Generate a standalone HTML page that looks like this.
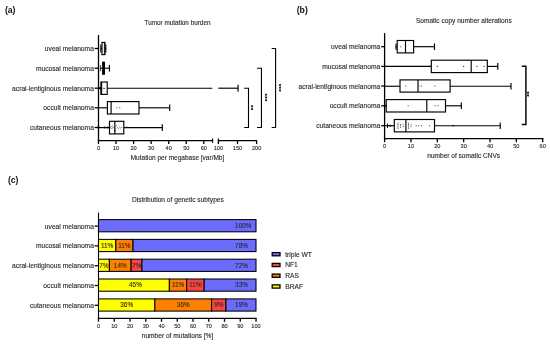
<!DOCTYPE html>
<html><head><meta charset="utf-8"><title>Figure</title>
<style>
html,body{margin:0;padding:0;background:#fff;}
svg{display:block;font-family:"Liberation Sans",Arial,sans-serif;}
</style></head>
<body>
<svg width="550" height="345" viewBox="0 0 550 345">
<rect x="0" y="0" width="550" height="345" fill="#ffffff"/>
<text x="4.90" y="12.50" font-size="8.7" text-anchor="start" font-weight="bold" fill="#111" >(a)</text>
<text x="296.70" y="12.50" font-size="8.7" text-anchor="start" font-weight="bold" fill="#111" >(b)</text>
<text x="7.90" y="182.50" font-size="8.7" text-anchor="start" font-weight="bold" fill="#111" >(c)</text>
<line x1="98.50" y1="35.00" x2="98.50" y2="141.30" stroke="#000" stroke-width="1.3"/>
<text x="93.90" y="51.00" font-size="6.7" text-anchor="end" font-weight="normal" fill="#2a2a2a"  stroke="#2a2a2a" stroke-width="0.12">uveal melanoma</text>
<line x1="94.60" y1="48.50" x2="98.50" y2="48.50" stroke="#000" stroke-width="1.3"/>
<text x="93.90" y="70.70" font-size="6.7" text-anchor="end" font-weight="normal" fill="#2a2a2a"  stroke="#2a2a2a" stroke-width="0.12">mucosal melanoma</text>
<line x1="94.60" y1="68.20" x2="98.50" y2="68.20" stroke="#000" stroke-width="1.3"/>
<text x="93.90" y="90.70" font-size="6.7" text-anchor="end" font-weight="normal" fill="#2a2a2a"  stroke="#2a2a2a" stroke-width="0.12">acral-lentiginous melanoma</text>
<line x1="94.60" y1="88.20" x2="98.50" y2="88.20" stroke="#000" stroke-width="1.3"/>
<text x="93.90" y="110.30" font-size="6.7" text-anchor="end" font-weight="normal" fill="#2a2a2a"  stroke="#2a2a2a" stroke-width="0.12">occult melanoma</text>
<line x1="94.60" y1="107.80" x2="98.50" y2="107.80" stroke="#000" stroke-width="1.3"/>
<text x="93.90" y="130.00" font-size="6.7" text-anchor="end" font-weight="normal" fill="#2a2a2a"  stroke="#2a2a2a" stroke-width="0.12">cutaneous melanoma</text>
<line x1="94.60" y1="127.50" x2="98.50" y2="127.50" stroke="#000" stroke-width="1.3"/>
<text x="177.50" y="24.90" font-size="6.38" text-anchor="middle" font-weight="normal" fill="#2a2a2a"  stroke="#2a2a2a" stroke-width="0.12">Tumor mutation burden</text>
<line x1="97.80" y1="140.60" x2="212.60" y2="140.60" stroke="#000" stroke-width="1.3"/>
<line x1="212.60" y1="138.60" x2="212.60" y2="142.70" stroke="#000" stroke-width="1.15"/>
<line x1="218.40" y1="140.60" x2="257.10" y2="140.60" stroke="#000" stroke-width="1.3"/>
<line x1="218.40" y1="138.60" x2="218.40" y2="142.70" stroke="#000" stroke-width="1.15"/>
<line x1="98.50" y1="140.60" x2="98.50" y2="144.10" stroke="#000" stroke-width="1.3"/>
<text x="98.50" y="150.20" font-size="5.6" text-anchor="middle" font-weight="normal" fill="#2a2a2a"  stroke="#2a2a2a" stroke-width="0.12">0</text>
<line x1="116.05" y1="140.60" x2="116.05" y2="144.10" stroke="#000" stroke-width="1.3"/>
<text x="116.05" y="150.20" font-size="5.6" text-anchor="middle" font-weight="normal" fill="#2a2a2a"  stroke="#2a2a2a" stroke-width="0.12">10</text>
<line x1="133.60" y1="140.60" x2="133.60" y2="144.10" stroke="#000" stroke-width="1.3"/>
<text x="133.60" y="150.20" font-size="5.6" text-anchor="middle" font-weight="normal" fill="#2a2a2a"  stroke="#2a2a2a" stroke-width="0.12">20</text>
<line x1="151.15" y1="140.60" x2="151.15" y2="144.10" stroke="#000" stroke-width="1.3"/>
<text x="151.15" y="150.20" font-size="5.6" text-anchor="middle" font-weight="normal" fill="#2a2a2a"  stroke="#2a2a2a" stroke-width="0.12">30</text>
<line x1="168.70" y1="140.60" x2="168.70" y2="144.10" stroke="#000" stroke-width="1.3"/>
<text x="168.70" y="150.20" font-size="5.6" text-anchor="middle" font-weight="normal" fill="#2a2a2a"  stroke="#2a2a2a" stroke-width="0.12">40</text>
<line x1="186.25" y1="140.60" x2="186.25" y2="144.10" stroke="#000" stroke-width="1.3"/>
<text x="186.25" y="150.20" font-size="5.6" text-anchor="middle" font-weight="normal" fill="#2a2a2a"  stroke="#2a2a2a" stroke-width="0.12">50</text>
<line x1="203.80" y1="140.60" x2="203.80" y2="144.10" stroke="#000" stroke-width="1.3"/>
<text x="203.80" y="150.20" font-size="5.6" text-anchor="middle" font-weight="normal" fill="#2a2a2a"  stroke="#2a2a2a" stroke-width="0.12">60</text>
<line x1="218.40" y1="140.60" x2="218.40" y2="144.10" stroke="#000" stroke-width="1.3"/>
<text x="218.40" y="150.20" font-size="5.6" text-anchor="middle" font-weight="normal" fill="#2a2a2a"  stroke="#2a2a2a" stroke-width="0.12">100</text>
<line x1="237.50" y1="140.60" x2="237.50" y2="144.10" stroke="#000" stroke-width="1.3"/>
<text x="237.50" y="150.20" font-size="5.6" text-anchor="middle" font-weight="normal" fill="#2a2a2a"  stroke="#2a2a2a" stroke-width="0.12">150</text>
<line x1="256.60" y1="140.60" x2="256.60" y2="144.10" stroke="#000" stroke-width="1.3"/>
<text x="256.60" y="150.20" font-size="5.6" text-anchor="middle" font-weight="normal" fill="#2a2a2a"  stroke="#2a2a2a" stroke-width="0.12">200</text>
<text x="177.50" y="159.70" font-size="6.5" text-anchor="middle" font-weight="normal" fill="#2a2a2a"  stroke="#2a2a2a" stroke-width="0.12">Mutation per megabase [var/Mb]</text>
<line x1="100.80" y1="44.50" x2="100.80" y2="52.50" stroke="#000" stroke-width="1.1"/>
<line x1="105.90" y1="44.50" x2="105.90" y2="52.50" stroke="#000" stroke-width="1.0"/>
<line x1="100.80" y1="48.50" x2="105.90" y2="48.50" stroke="#000" stroke-width="1.15"/>
<rect x="102.00" y="42.40" width="3.00" height="12.20" fill="#fff" stroke="#000" stroke-width="1.15"/>
<line x1="104.40" y1="42.40" x2="104.40" y2="54.60" stroke="#000" stroke-width="0.8"/>
<line x1="100.40" y1="65.10" x2="100.40" y2="71.30" stroke="#222" stroke-width="0.9"/>
<line x1="100.40" y1="68.20" x2="102.70" y2="68.20" stroke="#000" stroke-width="1.15"/>
<line x1="104.40" y1="68.20" x2="109.40" y2="68.20" stroke="#000" stroke-width="1.15"/>
<line x1="109.40" y1="64.90" x2="109.40" y2="71.50" stroke="#000" stroke-width="1.15"/>
<rect x="102.70" y="62.20" width="1.70" height="12.00" fill="#000" stroke="#000" stroke-width="1.15"/>
<line x1="103.50" y1="62.20" x2="103.50" y2="74.20" stroke="#000" stroke-width="1.15"/>
<line x1="98.50" y1="88.20" x2="101.00" y2="88.20" stroke="#000" stroke-width="1.15"/>
<line x1="107.00" y1="88.20" x2="212.30" y2="88.20" stroke="#000" stroke-width="1.15"/>
<line x1="218.30" y1="88.20" x2="238.10" y2="88.20" stroke="#000" stroke-width="1.15"/>
<line x1="238.10" y1="84.70" x2="238.10" y2="91.70" stroke="#000" stroke-width="1.15"/>
<rect x="100.90" y="82.00" width="6.30" height="12.40" fill="#fff" stroke="#000" stroke-width="1.15"/>
<line x1="101.60" y1="82.00" x2="101.60" y2="94.40" stroke="#000" stroke-width="1.15"/>
<circle cx="100.20" cy="88.20" r="1.2" fill="#000"/>
<circle cx="103.20" cy="88.20" r="0.55" fill="#111"/>
<circle cx="104.60" cy="88.20" r="0.55" fill="#111"/>
<line x1="98.50" y1="107.80" x2="107.40" y2="107.80" stroke="#000" stroke-width="1.15"/>
<line x1="139.00" y1="107.80" x2="169.70" y2="107.80" stroke="#000" stroke-width="1.15"/>
<line x1="169.70" y1="104.50" x2="169.70" y2="111.10" stroke="#000" stroke-width="1.15"/>
<rect x="107.40" y="101.60" width="31.60" height="12.40" fill="#fff" stroke="#000" stroke-width="1.15"/>
<line x1="111.10" y1="101.60" x2="111.10" y2="114.00" stroke="#000" stroke-width="1.15"/>
<circle cx="116.90" cy="107.80" r="0.55" fill="#111"/>
<circle cx="119.80" cy="107.80" r="0.55" fill="#111"/>
<line x1="98.50" y1="127.60" x2="109.50" y2="127.60" stroke="#000" stroke-width="1.15"/>
<line x1="123.80" y1="127.60" x2="162.30" y2="127.60" stroke="#000" stroke-width="1.15"/>
<line x1="162.30" y1="124.30" x2="162.30" y2="130.90" stroke="#000" stroke-width="1.15"/>
<rect x="109.50" y="121.30" width="14.30" height="12.60" fill="#fff" stroke="#000" stroke-width="1.15"/>
<line x1="114.80" y1="121.30" x2="114.80" y2="133.90" stroke="#000" stroke-width="1.15"/>
<circle cx="98.50" cy="127.50" r="1.25" fill="#000"/>
<circle cx="104.60" cy="127.50" r="0.95" fill="#000"/>
<circle cx="107.70" cy="127.50" r="1.05" fill="#000"/>
<circle cx="115.10" cy="130.70" r="0.65" fill="#000"/>
<circle cx="110.60" cy="127.50" r="0.42" fill="#222"/>
<circle cx="111.20" cy="126.50" r="0.42" fill="#222"/>
<circle cx="111.20" cy="128.50" r="0.42" fill="#222"/>
<circle cx="112.30" cy="126.00" r="0.42" fill="#222"/>
<circle cx="112.30" cy="128.00" r="0.42" fill="#222"/>
<circle cx="113.20" cy="127.50" r="0.42" fill="#222"/>
<circle cx="115.80" cy="126.50" r="0.42" fill="#222"/>
<circle cx="115.80" cy="128.50" r="0.42" fill="#222"/>
<circle cx="116.60" cy="125.50" r="0.42" fill="#222"/>
<circle cx="117.30" cy="127.50" r="0.42" fill="#222"/>
<circle cx="118.20" cy="128.50" r="0.42" fill="#222"/>
<circle cx="119.50" cy="127.00" r="0.42" fill="#222"/>
<circle cx="120.60" cy="128.00" r="0.42" fill="#222"/>
<circle cx="121.80" cy="127.50" r="0.42" fill="#222"/>
<circle cx="125.20" cy="127.50" r="0.42" fill="#222"/>
<circle cx="126.80" cy="126.70" r="0.42" fill="#222"/>
<path d="M244.20 88.30H248.50V127.55H244.20" fill="none" stroke="#000" stroke-width="1.1"/>
<text transform="translate(248.93 107.72) rotate(90)" font-size="6.0" text-anchor="middle" letter-spacing="0.4" fill="#111" stroke="#111" stroke-width="0.25">**</text>
<path d="M257.00 68.30H261.45V127.55H257.00" fill="none" stroke="#000" stroke-width="1.1"/>
<text transform="translate(262.53 97.72) rotate(90)" font-size="6.0" text-anchor="middle" letter-spacing="0.4" fill="#111" stroke="#111" stroke-width="0.25">***</text>
<path d="M271.70 48.50H275.60V127.55H271.70" fill="none" stroke="#000" stroke-width="1.1"/>
<text transform="translate(277.03 87.83) rotate(90)" font-size="6.0" text-anchor="middle" letter-spacing="0.4" fill="#111" stroke="#111" stroke-width="0.25">***</text>
<line x1="384.60" y1="33.00" x2="384.60" y2="139.30" stroke="#000" stroke-width="1.3"/>
<text x="380.20" y="49.30" font-size="6.7" text-anchor="end" font-weight="normal" fill="#2a2a2a"  stroke="#2a2a2a" stroke-width="0.12">uveal melanoma</text>
<line x1="381.20" y1="46.70" x2="384.60" y2="46.70" stroke="#000" stroke-width="1.3"/>
<text x="380.20" y="69.00" font-size="6.7" text-anchor="end" font-weight="normal" fill="#2a2a2a"  stroke="#2a2a2a" stroke-width="0.12">mucosal melanoma</text>
<line x1="381.20" y1="66.40" x2="384.60" y2="66.40" stroke="#000" stroke-width="1.3"/>
<text x="380.20" y="88.60" font-size="6.7" text-anchor="end" font-weight="normal" fill="#2a2a2a"  stroke="#2a2a2a" stroke-width="0.12">acral-lentiginous melanoma</text>
<line x1="381.20" y1="86.00" x2="384.60" y2="86.00" stroke="#000" stroke-width="1.3"/>
<text x="380.20" y="108.40" font-size="6.7" text-anchor="end" font-weight="normal" fill="#2a2a2a"  stroke="#2a2a2a" stroke-width="0.12">occult melanoma</text>
<line x1="381.20" y1="105.80" x2="384.60" y2="105.80" stroke="#000" stroke-width="1.3"/>
<text x="380.20" y="128.30" font-size="6.7" text-anchor="end" font-weight="normal" fill="#2a2a2a"  stroke="#2a2a2a" stroke-width="0.12">cutaneous melanoma</text>
<line x1="381.20" y1="125.70" x2="384.60" y2="125.70" stroke="#000" stroke-width="1.3"/>
<text x="463.80" y="22.90" font-size="6.58" text-anchor="middle" font-weight="normal" fill="#2a2a2a"  stroke="#2a2a2a" stroke-width="0.12">Somatic copy number alterations</text>
<line x1="383.90" y1="138.70" x2="543.40" y2="138.70" stroke="#000" stroke-width="1.3"/>
<line x1="384.60" y1="138.70" x2="384.60" y2="142.20" stroke="#000" stroke-width="1.3"/>
<text x="384.60" y="148.30" font-size="5.6" text-anchor="middle" font-weight="normal" fill="#2a2a2a"  stroke="#2a2a2a" stroke-width="0.12">0</text>
<line x1="410.95" y1="138.70" x2="410.95" y2="142.20" stroke="#000" stroke-width="1.3"/>
<text x="410.95" y="148.30" font-size="5.6" text-anchor="middle" font-weight="normal" fill="#2a2a2a"  stroke="#2a2a2a" stroke-width="0.12">10</text>
<line x1="437.30" y1="138.70" x2="437.30" y2="142.20" stroke="#000" stroke-width="1.3"/>
<text x="437.30" y="148.30" font-size="5.6" text-anchor="middle" font-weight="normal" fill="#2a2a2a"  stroke="#2a2a2a" stroke-width="0.12">20</text>
<line x1="463.65" y1="138.70" x2="463.65" y2="142.20" stroke="#000" stroke-width="1.3"/>
<text x="463.65" y="148.30" font-size="5.6" text-anchor="middle" font-weight="normal" fill="#2a2a2a"  stroke="#2a2a2a" stroke-width="0.12">30</text>
<line x1="490.00" y1="138.70" x2="490.00" y2="142.20" stroke="#000" stroke-width="1.3"/>
<text x="490.00" y="148.30" font-size="5.6" text-anchor="middle" font-weight="normal" fill="#2a2a2a"  stroke="#2a2a2a" stroke-width="0.12">40</text>
<line x1="516.35" y1="138.70" x2="516.35" y2="142.20" stroke="#000" stroke-width="1.3"/>
<text x="516.35" y="148.30" font-size="5.6" text-anchor="middle" font-weight="normal" fill="#2a2a2a"  stroke="#2a2a2a" stroke-width="0.12">50</text>
<line x1="542.70" y1="138.70" x2="542.70" y2="142.20" stroke="#000" stroke-width="1.3"/>
<text x="542.70" y="148.30" font-size="5.6" text-anchor="middle" font-weight="normal" fill="#2a2a2a"  stroke="#2a2a2a" stroke-width="0.12">60</text>
<text x="463.70" y="157.80" font-size="6.56" text-anchor="middle" font-weight="normal" fill="#2a2a2a"  stroke="#2a2a2a" stroke-width="0.12">number of somatic CNVs</text>
<line x1="396.00" y1="46.70" x2="397.20" y2="46.70" stroke="#000" stroke-width="1.15"/>
<line x1="413.60" y1="46.70" x2="434.50" y2="46.70" stroke="#000" stroke-width="1.15"/>
<line x1="434.50" y1="43.40" x2="434.50" y2="50.00" stroke="#000" stroke-width="1.15"/>
<rect x="397.20" y="40.50" width="16.40" height="12.40" fill="#fff" stroke="#000" stroke-width="1.15"/>
<line x1="405.50" y1="40.50" x2="405.50" y2="52.90" stroke="#000" stroke-width="1.15"/>
<line x1="396.00" y1="43.70" x2="396.00" y2="49.70" stroke="#000" stroke-width="1.15"/>
<circle cx="400.80" cy="46.70" r="0.55" fill="#111"/>
<line x1="384.60" y1="66.40" x2="431.30" y2="66.40" stroke="#000" stroke-width="1.15"/>
<line x1="487.30" y1="66.40" x2="497.80" y2="66.40" stroke="#000" stroke-width="1.15"/>
<line x1="497.80" y1="63.10" x2="497.80" y2="69.70" stroke="#000" stroke-width="1.15"/>
<rect x="431.30" y="60.20" width="56.00" height="12.40" fill="#fff" stroke="#000" stroke-width="1.15"/>
<line x1="471.20" y1="60.20" x2="471.20" y2="72.60" stroke="#000" stroke-width="1.15"/>
<circle cx="437.30" cy="66.40" r="0.55" fill="#111"/>
<circle cx="463.70" cy="66.40" r="0.55" fill="#111"/>
<circle cx="476.90" cy="66.40" r="0.55" fill="#111"/>
<circle cx="484.20" cy="66.40" r="0.55" fill="#111"/>
<line x1="384.60" y1="86.25" x2="400.00" y2="86.25" stroke="#000" stroke-width="1.15"/>
<line x1="450.10" y1="86.25" x2="511.00" y2="86.25" stroke="#000" stroke-width="1.15"/>
<line x1="511.00" y1="82.95" x2="511.00" y2="89.55" stroke="#000" stroke-width="1.15"/>
<rect x="400.00" y="79.90" width="50.10" height="12.20" fill="#fff" stroke="#000" stroke-width="1.15"/>
<line x1="418.00" y1="79.90" x2="418.00" y2="92.10" stroke="#000" stroke-width="1.15"/>
<circle cx="405.90" cy="86.00" r="0.55" fill="#111"/>
<circle cx="418.90" cy="86.00" r="0.55" fill="#111"/>
<circle cx="421.30" cy="86.00" r="0.55" fill="#111"/>
<circle cx="434.90" cy="86.00" r="0.55" fill="#111"/>
<line x1="384.60" y1="105.80" x2="386.20" y2="105.80" stroke="#000" stroke-width="1.15"/>
<line x1="445.50" y1="105.80" x2="461.30" y2="105.80" stroke="#000" stroke-width="1.15"/>
<line x1="461.30" y1="102.50" x2="461.30" y2="109.10" stroke="#000" stroke-width="1.15"/>
<rect x="386.20" y="99.60" width="59.30" height="12.40" fill="#fff" stroke="#000" stroke-width="1.15"/>
<line x1="426.80" y1="99.60" x2="426.80" y2="112.00" stroke="#000" stroke-width="1.15"/>
<circle cx="386.00" cy="105.80" r="0.9" fill="#000"/>
<circle cx="408.10" cy="105.80" r="0.55" fill="#111"/>
<circle cx="434.90" cy="105.80" r="0.55" fill="#111"/>
<circle cx="438.00" cy="105.80" r="0.55" fill="#111"/>
<line x1="384.60" y1="125.70" x2="394.30" y2="125.70" stroke="#000" stroke-width="1.15"/>
<line x1="434.50" y1="125.70" x2="500.20" y2="125.70" stroke="#000" stroke-width="1.15"/>
<line x1="500.20" y1="122.40" x2="500.20" y2="129.00" stroke="#000" stroke-width="1.15"/>
<rect x="394.30" y="119.50" width="40.20" height="12.40" fill="#fff" stroke="#000" stroke-width="1.15"/>
<line x1="405.90" y1="119.50" x2="405.90" y2="131.90" stroke="#000" stroke-width="1.15"/>
<line x1="387.50" y1="123.40" x2="387.50" y2="128.00" stroke="#000" stroke-width="0.9"/>
<circle cx="390.20" cy="125.70" r="0.95" fill="#000"/>
<circle cx="453.20" cy="125.70" r="0.8" fill="#000"/>
<circle cx="398.00" cy="123.10" r="0.5" fill="#222"/>
<circle cx="398.00" cy="124.40" r="0.5" fill="#222"/>
<circle cx="398.00" cy="125.70" r="0.5" fill="#222"/>
<circle cx="398.00" cy="127.00" r="0.5" fill="#222"/>
<circle cx="398.00" cy="128.30" r="0.5" fill="#222"/>
<circle cx="400.60" cy="124.20" r="0.5" fill="#222"/>
<circle cx="400.60" cy="125.70" r="0.5" fill="#222"/>
<circle cx="400.60" cy="127.20" r="0.5" fill="#222"/>
<circle cx="403.20" cy="124.80" r="0.5" fill="#222"/>
<circle cx="403.20" cy="126.60" r="0.5" fill="#222"/>
<circle cx="408.40" cy="123.10" r="0.5" fill="#222"/>
<circle cx="408.40" cy="124.40" r="0.5" fill="#222"/>
<circle cx="408.40" cy="125.70" r="0.5" fill="#222"/>
<circle cx="408.40" cy="127.00" r="0.5" fill="#222"/>
<circle cx="408.40" cy="128.30" r="0.5" fill="#222"/>
<circle cx="411.00" cy="124.80" r="0.5" fill="#222"/>
<circle cx="411.00" cy="126.60" r="0.5" fill="#222"/>
<circle cx="416.20" cy="125.70" r="0.55" fill="#111"/>
<circle cx="418.80" cy="125.70" r="0.55" fill="#111"/>
<circle cx="421.50" cy="125.70" r="0.55" fill="#111"/>
<circle cx="429.60" cy="125.70" r="0.55" fill="#111"/>
<path d="M521.80 66.20H525.90V124.40H521.80" fill="none" stroke="#000" stroke-width="1.45"/>
<text transform="translate(524.93 94.30) rotate(90)" font-size="6.0" text-anchor="middle" letter-spacing="0.4" fill="#111" stroke="#111" stroke-width="0.25">**</text>
<line x1="98.50" y1="212.60" x2="98.50" y2="319.00" stroke="#000" stroke-width="1.1"/>
<text x="93.90" y="228.60" font-size="6.7" text-anchor="end" font-weight="normal" fill="#2a2a2a"  stroke="#2a2a2a" stroke-width="0.12">uveal melanoma</text>
<line x1="94.60" y1="226.10" x2="98.50" y2="226.10" stroke="#000" stroke-width="1.3"/>
<text x="93.90" y="248.40" font-size="6.7" text-anchor="end" font-weight="normal" fill="#2a2a2a"  stroke="#2a2a2a" stroke-width="0.12">mucosal melanoma</text>
<line x1="94.60" y1="245.90" x2="98.50" y2="245.90" stroke="#000" stroke-width="1.3"/>
<text x="93.90" y="268.20" font-size="6.7" text-anchor="end" font-weight="normal" fill="#2a2a2a"  stroke="#2a2a2a" stroke-width="0.12">acral-lentiginous melanoma</text>
<line x1="94.60" y1="265.70" x2="98.50" y2="265.70" stroke="#000" stroke-width="1.3"/>
<text x="93.90" y="288.00" font-size="6.7" text-anchor="end" font-weight="normal" fill="#2a2a2a"  stroke="#2a2a2a" stroke-width="0.12">occult melanoma</text>
<line x1="94.60" y1="285.50" x2="98.50" y2="285.50" stroke="#000" stroke-width="1.3"/>
<text x="93.90" y="307.80" font-size="6.7" text-anchor="end" font-weight="normal" fill="#2a2a2a"  stroke="#2a2a2a" stroke-width="0.12">cutaneous melanoma</text>
<line x1="94.60" y1="305.30" x2="98.50" y2="305.30" stroke="#000" stroke-width="1.3"/>
<text x="177.90" y="201.80" font-size="6.62" text-anchor="middle" font-weight="normal" fill="#2a2a2a"  stroke="#2a2a2a" stroke-width="0.12">Distribution of genetic subtypes</text>
<line x1="97.80" y1="318.30" x2="256.70" y2="318.30" stroke="#000" stroke-width="1.3"/>
<line x1="98.50" y1="318.30" x2="98.50" y2="321.80" stroke="#000" stroke-width="1.3"/>
<text x="98.50" y="327.90" font-size="5.6" text-anchor="middle" font-weight="normal" fill="#2a2a2a"  stroke="#2a2a2a" stroke-width="0.12">0</text>
<line x1="114.25" y1="318.30" x2="114.25" y2="321.80" stroke="#000" stroke-width="1.3"/>
<text x="114.25" y="327.90" font-size="5.6" text-anchor="middle" font-weight="normal" fill="#2a2a2a"  stroke="#2a2a2a" stroke-width="0.12">10</text>
<line x1="130.00" y1="318.30" x2="130.00" y2="321.80" stroke="#000" stroke-width="1.3"/>
<text x="130.00" y="327.90" font-size="5.6" text-anchor="middle" font-weight="normal" fill="#2a2a2a"  stroke="#2a2a2a" stroke-width="0.12">20</text>
<line x1="145.75" y1="318.30" x2="145.75" y2="321.80" stroke="#000" stroke-width="1.3"/>
<text x="145.75" y="327.90" font-size="5.6" text-anchor="middle" font-weight="normal" fill="#2a2a2a"  stroke="#2a2a2a" stroke-width="0.12">30</text>
<line x1="161.50" y1="318.30" x2="161.50" y2="321.80" stroke="#000" stroke-width="1.3"/>
<text x="161.50" y="327.90" font-size="5.6" text-anchor="middle" font-weight="normal" fill="#2a2a2a"  stroke="#2a2a2a" stroke-width="0.12">40</text>
<line x1="177.25" y1="318.30" x2="177.25" y2="321.80" stroke="#000" stroke-width="1.3"/>
<text x="177.25" y="327.90" font-size="5.6" text-anchor="middle" font-weight="normal" fill="#2a2a2a"  stroke="#2a2a2a" stroke-width="0.12">50</text>
<line x1="193.00" y1="318.30" x2="193.00" y2="321.80" stroke="#000" stroke-width="1.3"/>
<text x="193.00" y="327.90" font-size="5.6" text-anchor="middle" font-weight="normal" fill="#2a2a2a"  stroke="#2a2a2a" stroke-width="0.12">60</text>
<line x1="208.75" y1="318.30" x2="208.75" y2="321.80" stroke="#000" stroke-width="1.3"/>
<text x="208.75" y="327.90" font-size="5.6" text-anchor="middle" font-weight="normal" fill="#2a2a2a"  stroke="#2a2a2a" stroke-width="0.12">70</text>
<line x1="224.50" y1="318.30" x2="224.50" y2="321.80" stroke="#000" stroke-width="1.3"/>
<text x="224.50" y="327.90" font-size="5.6" text-anchor="middle" font-weight="normal" fill="#2a2a2a"  stroke="#2a2a2a" stroke-width="0.12">80</text>
<line x1="240.25" y1="318.30" x2="240.25" y2="321.80" stroke="#000" stroke-width="1.3"/>
<text x="240.25" y="327.90" font-size="5.6" text-anchor="middle" font-weight="normal" fill="#2a2a2a"  stroke="#2a2a2a" stroke-width="0.12">90</text>
<line x1="256.00" y1="318.30" x2="256.00" y2="321.80" stroke="#000" stroke-width="1.3"/>
<text x="256.00" y="327.90" font-size="5.6" text-anchor="middle" font-weight="normal" fill="#2a2a2a"  stroke="#2a2a2a" stroke-width="0.12">100</text>
<text x="177.50" y="337.60" font-size="6.6" text-anchor="middle" font-weight="normal" fill="#2a2a2a"  stroke="#2a2a2a" stroke-width="0.12">number of mutations [%]</text>
<rect x="98.50" y="219.60" width="157.50" height="12.20" fill="#6c6cfc" stroke="#000" stroke-width="1.05"/>
<text x="235.10" y="228.00" font-size="6.4" text-anchor="start" font-weight="normal" fill="#26263a"  stroke="#2a2a2a" stroke-width="0.12">100%</text>
<rect x="98.50" y="239.40" width="17.33" height="12.20" fill="#ffff00" stroke="#000" stroke-width="1.05"/>
<text x="107.16" y="247.80" font-size="6.4" text-anchor="middle" font-weight="normal" fill="#33301a"  stroke="#2a2a2a" stroke-width="0.12">11%</text>
<rect x="115.83" y="239.40" width="17.17" height="12.20" fill="#ff8000" stroke="#000" stroke-width="1.05"/>
<text x="124.41" y="247.80" font-size="6.4" text-anchor="middle" font-weight="normal" fill="#33301a"  stroke="#2a2a2a" stroke-width="0.12">11%</text>
<rect x="132.99" y="239.40" width="123.01" height="12.20" fill="#6c6cfc" stroke="#000" stroke-width="1.05"/>
<text x="235.10" y="247.80" font-size="6.4" text-anchor="start" font-weight="normal" fill="#26263a"  stroke="#2a2a2a" stroke-width="0.12">78%</text>
<rect x="98.50" y="259.20" width="10.87" height="12.20" fill="#ffff00" stroke="#000" stroke-width="1.05"/>
<text x="103.93" y="267.60" font-size="6.4" text-anchor="middle" font-weight="normal" fill="#33301a"  stroke="#2a2a2a" stroke-width="0.12">7%</text>
<rect x="109.37" y="259.20" width="21.74" height="12.20" fill="#ff8000" stroke="#000" stroke-width="1.05"/>
<text x="120.24" y="267.60" font-size="6.4" text-anchor="middle" font-weight="normal" fill="#33301a"  stroke="#2a2a2a" stroke-width="0.12">14%</text>
<rect x="131.10" y="259.20" width="10.87" height="12.20" fill="#fa4444" stroke="#000" stroke-width="1.05"/>
<text x="136.54" y="267.60" font-size="6.4" text-anchor="middle" font-weight="normal" fill="#33301a"  stroke="#2a2a2a" stroke-width="0.12">7%</text>
<rect x="141.97" y="259.20" width="114.03" height="12.20" fill="#6c6cfc" stroke="#000" stroke-width="1.05"/>
<text x="235.10" y="267.60" font-size="6.4" text-anchor="start" font-weight="normal" fill="#26263a"  stroke="#2a2a2a" stroke-width="0.12">72%</text>
<rect x="98.50" y="279.00" width="70.88" height="12.20" fill="#ffff00" stroke="#000" stroke-width="1.05"/>
<text x="135.44" y="287.40" font-size="6.4" text-anchor="middle" font-weight="normal" fill="#33301a"  stroke="#2a2a2a" stroke-width="0.12">45%</text>
<rect x="169.38" y="279.00" width="17.32" height="12.20" fill="#ff8000" stroke="#000" stroke-width="1.05"/>
<text x="178.04" y="287.40" font-size="6.4" text-anchor="middle" font-weight="normal" fill="#33301a"  stroke="#2a2a2a" stroke-width="0.12">11%</text>
<rect x="186.70" y="279.00" width="17.48" height="12.20" fill="#fa4444" stroke="#000" stroke-width="1.05"/>
<text x="195.44" y="287.40" font-size="6.4" text-anchor="middle" font-weight="normal" fill="#33301a"  stroke="#2a2a2a" stroke-width="0.12">11%</text>
<rect x="204.18" y="279.00" width="51.82" height="12.20" fill="#6c6cfc" stroke="#000" stroke-width="1.05"/>
<text x="235.10" y="287.40" font-size="6.4" text-anchor="start" font-weight="normal" fill="#26263a"  stroke="#2a2a2a" stroke-width="0.12">33%</text>
<rect x="98.50" y="298.90" width="56.38" height="12.20" fill="#ffff00" stroke="#000" stroke-width="1.05"/>
<text x="126.69" y="307.30" font-size="6.4" text-anchor="middle" font-weight="normal" fill="#33301a"  stroke="#2a2a2a" stroke-width="0.12">36%</text>
<rect x="154.88" y="298.90" width="56.70" height="12.20" fill="#ff8000" stroke="#000" stroke-width="1.05"/>
<text x="183.23" y="307.30" font-size="6.4" text-anchor="middle" font-weight="normal" fill="#33301a"  stroke="#2a2a2a" stroke-width="0.12">36%</text>
<rect x="211.58" y="298.90" width="14.33" height="12.20" fill="#fa4444" stroke="#000" stroke-width="1.05"/>
<text x="218.75" y="307.30" font-size="6.4" text-anchor="middle" font-weight="normal" fill="#33301a"  stroke="#2a2a2a" stroke-width="0.12">9%</text>
<rect x="225.92" y="298.90" width="30.08" height="12.20" fill="#6c6cfc" stroke="#000" stroke-width="1.05"/>
<text x="235.10" y="307.30" font-size="6.4" text-anchor="start" font-weight="normal" fill="#26263a"  stroke="#2a2a2a" stroke-width="0.12">19%</text>
<rect x="272.20" y="252.60" width="7.80" height="3.20" fill="#6c6cfc" stroke="#000" stroke-width="1.3"/>
<text x="285.20" y="256.50" font-size="6.7" text-anchor="start" font-weight="normal" fill="#2a2a2a"  stroke="#2a2a2a" stroke-width="0.12">triple WT</text>
<rect x="272.20" y="263.40" width="7.80" height="3.20" fill="#fa4444" stroke="#000" stroke-width="1.3"/>
<text x="285.20" y="267.30" font-size="6.7" text-anchor="start" font-weight="normal" fill="#2a2a2a"  stroke="#2a2a2a" stroke-width="0.12">NF1</text>
<rect x="272.20" y="274.10" width="7.80" height="3.20" fill="#ff8000" stroke="#000" stroke-width="1.3"/>
<text x="285.20" y="278.00" font-size="6.7" text-anchor="start" font-weight="normal" fill="#2a2a2a"  stroke="#2a2a2a" stroke-width="0.12">RAS</text>
<rect x="272.20" y="284.90" width="7.80" height="3.20" fill="#ffff00" stroke="#000" stroke-width="1.3"/>
<text x="285.20" y="288.80" font-size="6.7" text-anchor="start" font-weight="normal" fill="#2a2a2a"  stroke="#2a2a2a" stroke-width="0.12">BRAF</text>
</svg>
</body></html>
